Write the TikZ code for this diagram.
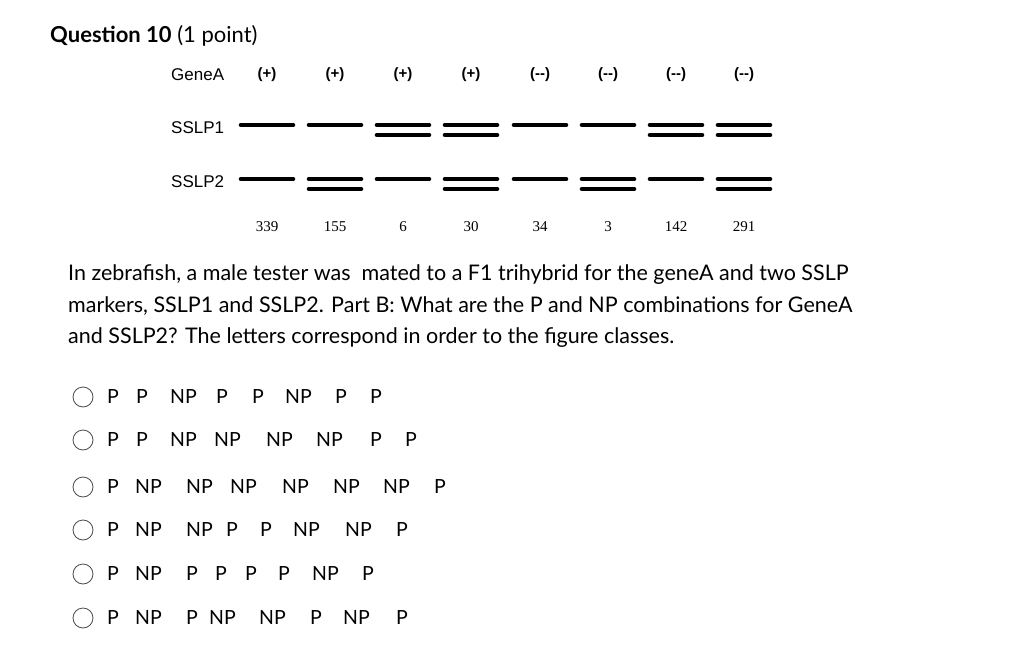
\documentclass[tikz,border=0pt]{standalone}
\usepackage{fontspec}
\setmainfont{Lato}
\newfontfamily\arialf{Liberation Sans}
\newfontfamily\timesf{Liberation Serif}
\begin{document}
\begin{tikzpicture}[x=1pt,y=-1pt,
  band/.style={line width=4.6pt,line cap=round,black},
  gl/.style={font=\arialf\fontsize{17}{19}\selectfont,anchor=west,inner sep=0},
  gs/.style={font=\arialf\bfseries\fontsize{15}{17}\selectfont,inner sep=0},
  num/.style={font=\timesf\fontsize{15}{17}\selectfont,inner sep=0},
  tx/.style={font=\fontsize{21.5}{25}\selectfont,anchor=west,inner sep=0},
  op/.style={font=\fontsize{19.5}{22}\selectfont,anchor=west,inner sep=0},
  radio/.style={draw=black!70,line width=0.8pt,circle,minimum size=20pt,inner sep=0}]
\useasboundingbox[fill=white] (0,0) rectangle (1024,663);
\node[anchor=west,inner sep=0,font=\fontsize{22}{26}\selectfont] (title) at (50,36) {\textbf{Question 10} (1 point)};
\node[gl] (ga) at (171,75) {GeneA};
\node[gl] (s1) at (171,128) {SSLP1};
\node[gl] (s2) at (171,182) {SSLP2};
\def\lanes{267/p/1/1/339,335/p/1/2/155,403/p/2/1/6,471/p/2/2/30,540/m/1/1/34,608/m/1/2/3,676/m/2/1/142,744/m/2/2/291}
\foreach \cx/\g/\a/\b/\n [count=\i] in \lanes {
  \if\g p \node[gs] (g\i) at (\cx,75) {(+)}; \else \node[gs] (g\i) at (\cx,75) {(--)}; \fi
  \draw[band] (\cx-26,125) -- (\cx+26,125);
  \ifnum\a=2 \draw[band] (\cx-26,135) -- (\cx+26,135); \fi
  \draw[band] (\cx-26,179) -- (\cx+26,179);
  \ifnum\b=2 \draw[band] (\cx-26,189) -- (\cx+26,189); \fi
  \node[num] (n\i) at (\cx,227) {\n};
}
\node[tx] (p1) at (68,275) {In zebrafish, a male tester was\ \ mated to a F1 trihybrid for the geneA and two SSLP};
\node[tx] (p2) at (68,306) {markers, SSLP1 and SSLP2. Part B: What are the P and NP combinations for GeneA};
\node[tx] (p3) at (68,338) {and SSLP2? The letters correspond in order to the figure classes.};
\foreach \y/\row [count=\r] in {
 397/{107/P,136/P,170/NP,216/P,252/P,285/NP,335/P,370/P},
 440/{107/P,136/P,170/NP,214/NP,266/NP,316/NP,370/P,405/P},
 487/{107/P,135/NP,186/NP,230/NP,282/NP,333/NP,383/NP,434/P},
 530/{107/P,135/NP,186/NP,226/P,260/P,293/NP,345/NP,396/P},
 574/{107/P,135/NP,186/P,215/P,245/P,278/P,312/NP,362/P},
 618/{107/P,135/NP,186/P,209/NP,259/NP,310/P,343/NP,396/P}} {
  \node[radio] (r\r) at (83,\y) {};
  \foreach \x/\t [count=\k] in \row { \node[op] (o\r-\k) at (\x,\y) {\t}; }
}
\end{tikzpicture}
\end{document}
